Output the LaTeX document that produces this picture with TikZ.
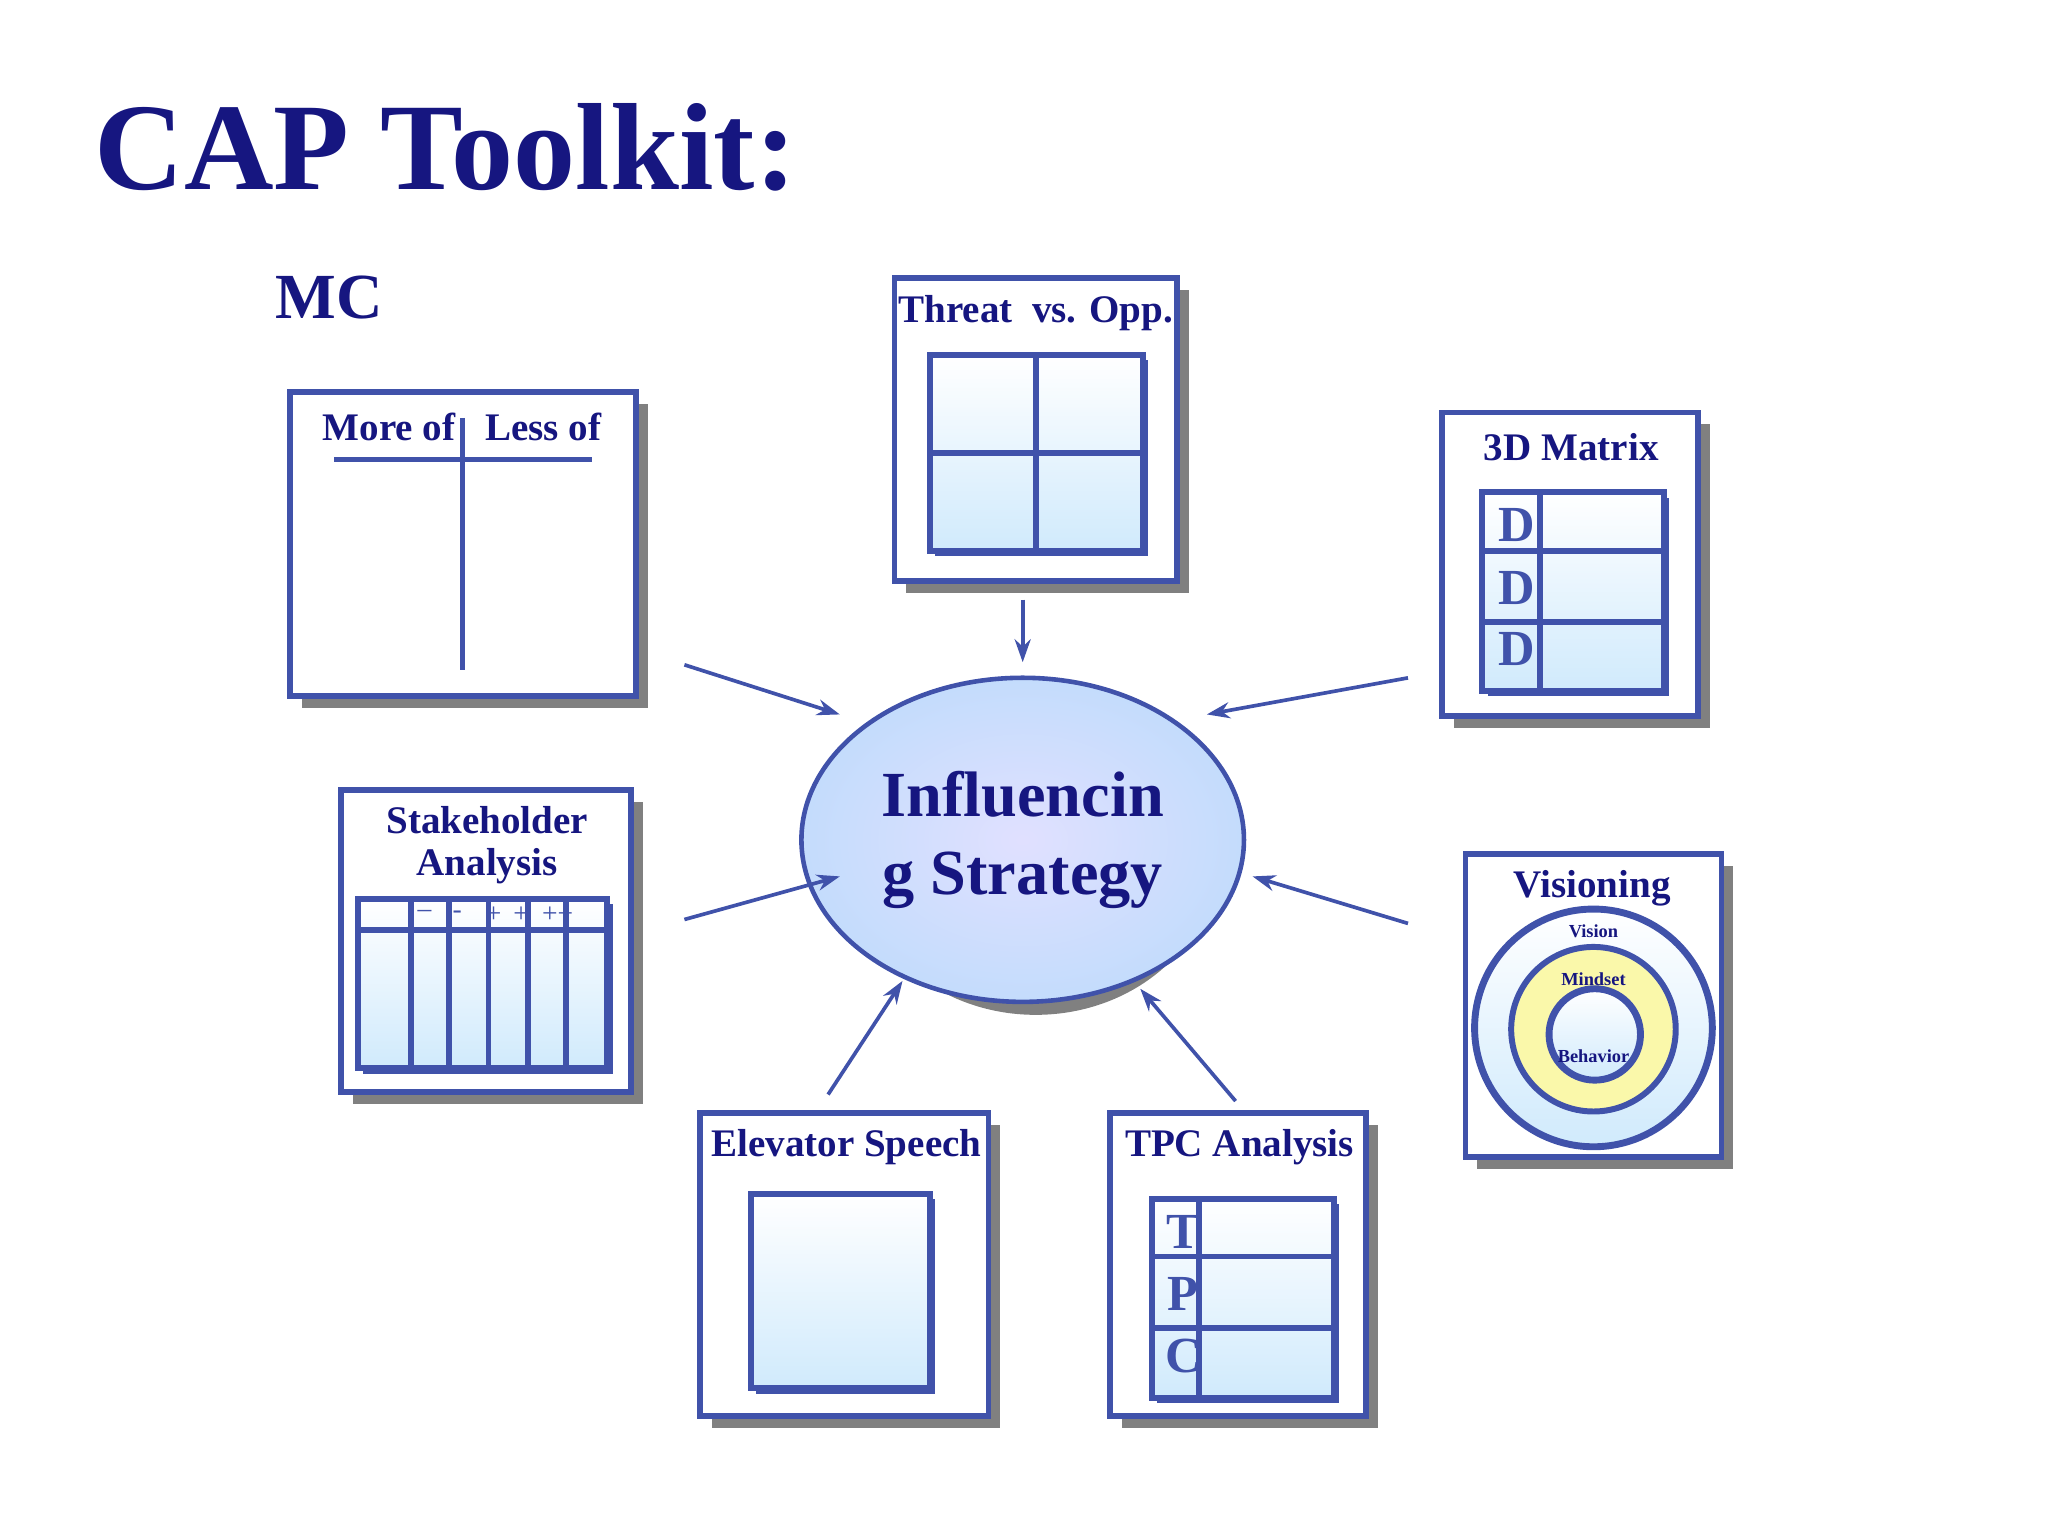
\documentclass[tikz,border=0pt]{standalone}
\usepackage{fontspec}
\setmainfont{Liberation Serif}
\usepackage{tikz}
\usetikzlibrary{positioning,arrows.meta,shapes.geometric,calc}
\definecolor{navy}{RGB}{22,22,128}
\definecolor{lineblue}{RGB}{64,82,170}
\definecolor{paleblue}{RGB}{208,234,252}
\definecolor{paleyellow}{RGB}{250,248,170}
\definecolor{shadowgray}{RGB}{128,128,128}
\begin{document}
\begin{tikzpicture}[
  x=0.01cm, y=-0.01cm,
  panel/.style={draw=lineblue, line width=1.2pt, fill=white},
  grid/.style={draw=lineblue, line width=1.3pt, top color=white, bottom color=paleblue},
  ttl/.style={font=\bfseries\fontsize{8.5}{10}\selectfont, text=navy},
  lbl/.style={font=\bfseries\fontsize{8}{10}\selectfont, text=lineblue},
  feed/.style={-{Stealth[length=5pt,width=3.5pt]}, draw=lineblue, line width=0.8pt}
]
\useasboundingbox (0,0) rectangle (1568,1176);

% title
\node[anchor=base west, font=\bfseries\fontsize{27}{30}\selectfont, text=navy] (title) at (60,145) {CAP Toolkit:};
\node[font=\bfseries\fontsize{14}{16}\selectfont, text=navy] (mc) at (252,228) {MC};

% shadows
\foreach \a/\b in {222/300, 685/213, 1104/316, 261/605, 1122/654, 536/852, 850/852}
  \fill[shadowgray] (\a+9,\b+9) rectangle ++(0,0);
\fill[shadowgray] (231,309) rectangle (496,542);
\fill[shadowgray] (694,222) rectangle (910,454);
\fill[shadowgray] (1113,325) rectangle (1309,557);
\fill[shadowgray] (270,614) rectangle (492,845);
\fill[shadowgray] (1131,663) rectangle (1327,895);
\fill[shadowgray] (545,861) rectangle (766,1093);
\fill[shadowgray] (859,861) rectangle (1055,1093);

% MC box
\draw[panel] (222,300) rectangle (487,533);
\node[ttl] (more) at (298,327) {More of};
\node[ttl] (less) at (416,327) {Less of};
\draw[lineblue, line width=1pt] (256,352) -- (453,352);
\draw[lineblue, line width=1pt] (354,320) -- (354,513);

% Threat vs. Opp.
\draw[panel] (685,213) rectangle (901,445);
\node[ttl] (threat) at (793,240) {Threat\ \ vs. Opp.};
\fill[lineblue] (716,276) rectangle (879,426);
\draw[grid] (712,272) rectangle (875,422);
\draw[lineblue, line width=1.3pt] (793,272) -- (793,422) (712,347) -- (875,347);

% 3D Matrix
\draw[panel] (1104,316) rectangle (1300,548);
\node[ttl] (matrix) at (1203,342) {3D Matrix};
\fill[lineblue] (1139,381) rectangle (1278,533);
\draw[grid] (1135,377) rectangle (1274,529);
\draw[lineblue, line width=1.3pt] (1179,377) -- (1179,529) (1135,422) -- (1274,422) (1135,476) -- (1274,476);
\foreach \y in {402,450,497}
  \node[lbl, font=\bfseries\fontsize{11}{12}\selectfont] at (1161,\y) {D};

% Stakeholder Analysis
\draw[panel] (261,605) rectangle (483,836);
\node[ttl, align=center] (stake) at (373,647) {Stakeholder\\[-1pt]Analysis};
\fill[lineblue] (278,692) rectangle (469,822);
\draw[grid] (274,688) rectangle (465,818);
\draw[lineblue, line width=1.3pt] (274,712) -- (465,712);
\foreach \x in {315,344,374,404,433}
  \draw[lineblue, line width=1.3pt] (\x,688) -- (\x,818);
\foreach \x/\t in {325/--, 350/-, 378/+/-, 399/+, 427/++}
  \node[font=\fontsize{6}{7}\selectfont, text=lineblue] at (\x,700) {\t};

% Visioning
\draw[panel] (1122,654) rectangle (1318,886);
\node[ttl] (vision) at (1219,680) {Visioning};
\draw[grid, line width=1.5pt] (1220,787) circle (91);
\draw[lineblue, line width=1.3pt, fill=paleyellow] (1220,788) circle (63);
\draw[grid, line width=1.5pt] (1221,792) circle (35);
\node[font=\bfseries\fontsize{4}{5}\selectfont, text=navy] at (1220,713) {Vision};
\node[font=\bfseries\fontsize{4}{5}\selectfont, text=navy] at (1220,750) {Mindset};
\node[font=\bfseries\fontsize{4}{5}\selectfont, text=navy] at (1220,809) {Behavior};

% Elevator Speech
\draw[panel] (536,852) rectangle (757,1084);
\node[ttl] (elevator) at (648,878) {Elevator Speech};
\fill[lineblue] (579,918) rectangle (716,1067);
\draw[grid] (575,914) rectangle (712,1063);

% TPC Analysis
\draw[panel] (850,852) rectangle (1046,1084);
\node[ttl] (tpc) at (949,878) {TPC Analysis};
\fill[lineblue] (886,922) rectangle (1025,1074);
\draw[grid] (882,918) rectangle (1021,1070);
\draw[lineblue, line width=1.3pt] (918,918) -- (918,1070) (882,962) -- (1021,962) (882,1017) -- (1021,1017);
\foreach \y/\t in {943/T, 991/P, 1038/C}
  \node[lbl, font=\bfseries\fontsize{11}{12}\selectfont] at (906,\y) {\t};

% centre
\fill[shadowgray] (793,653) ellipse [x radius=139, y radius=124];
\node[ellipse, draw=lineblue, line width=1pt, minimum width=278\pgflinewidth*0+2.78cm, minimum height=2.48cm,
  inner color=blue!12, outer color=blue!6!paleblue, font=\bfseries\fontsize{14}{17}\selectfont, text=navy, align=center]
  (strategy) at (783,643) {Influencin\\g Strategy};

% connector ends
\coordinate (mcEnd) at (524,509);
\coordinate (threatEnd) at (783,459);
\coordinate (matrixEnd) at (1078,519);
\coordinate (stakeEnd) at (524,704);
\coordinate (visionEnd) at (1078,707);
\coordinate (elevEnd) at (634,838);
\coordinate (tpcEnd) at (946,843);
\coordinate (inA) at (643,547);
\coordinate (inB) at (783,507);
\coordinate (inC) at (924,547);
\coordinate (inD) at (643,671);
\coordinate (inE) at (959,671);
\coordinate (inF) at (691,751);
\coordinate (inG) at (873,757);
\draw[feed] (mcEnd) -- (inA);
\draw[feed] (threatEnd) -- (inB);
\draw[feed] (matrixEnd) -- (inC);
\draw[feed] (stakeEnd) -- (inD);
\draw[feed] (visionEnd) -- (inE);
\draw[feed] (elevEnd) -- (inF);
\draw[feed] (tpcEnd) -- (inG);
\end{tikzpicture}
\end{document}
